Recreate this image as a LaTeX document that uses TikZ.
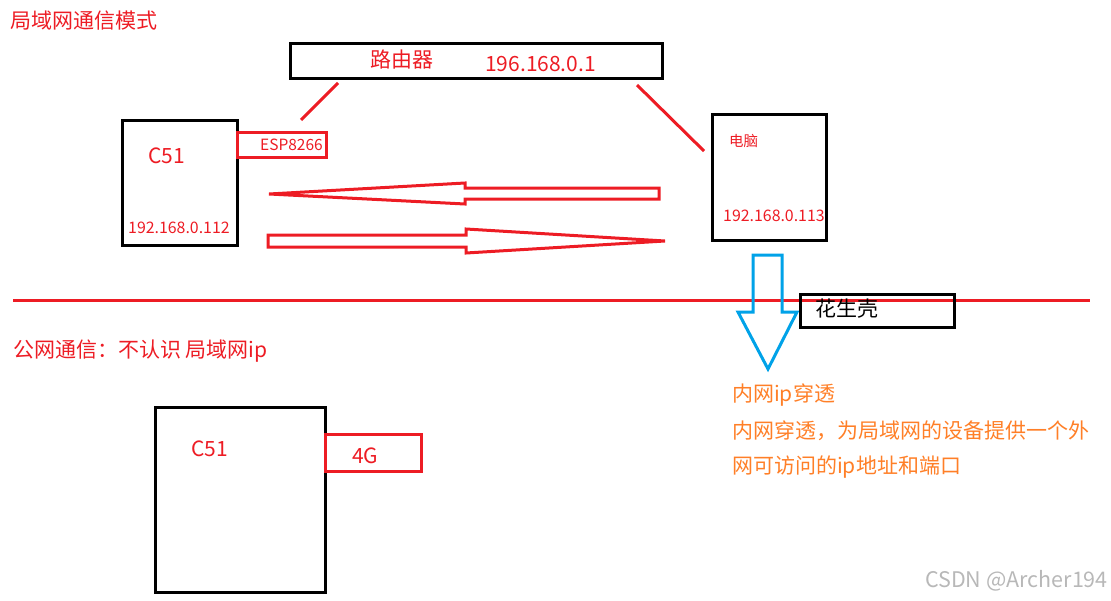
\documentclass[tikz,border=0pt]{standalone}
\usepackage{fontspec}
\setmainfont{Noto Sans CJK SC}
\definecolor{redpen}{RGB}{237,28,36}
\definecolor{bluepen}{RGB}{0,162,232}
\definecolor{orangepen}{RGB}{255,127,39}
\tikzset{
  blackbox/.style={draw=black, line width=3pt, inner sep=0pt},
  redbox/.style={draw=redpen, line width=3pt, inner sep=0pt},
  label/.style={anchor=west, inner sep=0pt, text=redpen},
  big/.style={font=\fontsize{21}{24}\selectfont},
  small/.style={font=\fontsize{15.9}{18}\selectfont},
  note/.style={anchor=west, inner sep=0pt, text=orangepen, font=\fontsize{21}{24}\selectfont},
  wire/.style={draw=redpen, line width=3pt},
}
\begin{document}
\begin{tikzpicture}[x=1pt,y=-1pt]
\useasboundingbox (0,0) rectangle (1111,600);

\node[label,big] (title) at (10,21) {局域网通信模式};

\node[blackbox, minimum width=372pt, minimum height=35pt] (router) at (476,60.5) {};
\node[label,big] (routername) at (370,60) {路由器};
\node[label,big] (routerip) at (485,64) {196.168.0.1};

\node[blackbox, minimum width=115pt, minimum height=125pt] (c51a) at (180,182.5) {};
\node[redbox, minimum width=89pt, minimum height=25pt] (esp) at (282,144.5) {};
\node[label,big] (c51atext) at (148,156) {C51};
\node[label,font=\fontsize{15.5}{18}\selectfont] (esptext) at (260,144.5) {ESP8266};
\node[label,small] (c51aip) at (128,228) {192.168.0.112};

\node[blackbox, minimum width=114pt, minimum height=126pt] (pc) at (769.5,177) {};
\node[label,font=\fontsize{14.5}{18}\selectfont] (pctext) at (729,141) {电脑};
\node[label,small] (pcip) at (723,216) {192.168.0.113};

\coordinate (routerleft) at (338,83);
\coordinate (c51top) at (301,120);
\coordinate (routerright) at (637,85);
\coordinate (pcleft) at (704,151);
\path[wire] (routerleft) -- (c51top);
\path[wire] (routerright) -- (pcleft);

% arrows between the two boards
\draw[wire, line join=miter] (269,194) -- (465,183) -- (465,188) -- (659,188) -- (659,199) -- (465,199) -- (465,204) -- cycle;
\draw[wire, line join=miter] (665,241) -- (466,229) -- (466,235) -- (268,235) -- (268,247) -- (466,247) -- (466,253) -- cycle;

\coordinate (lineleft) at (13,300);
\coordinate (lineright) at (1090,300);
\path[wire] (lineleft) -- (lineright);

\draw[draw=bluepen, line width=3pt] (753,255) -- (782,255) -- (782,312) -- (797,312) -- (768,369) -- (738,312) -- (753,312) -- cycle;

\node[blackbox, minimum width=154pt, minimum height=33pt] (peanut) at (877.5,310.5) {};
\node[label,big,text=black] (peanuttext) at (815,309) {花生壳};

\node[label,big] (publictitle) at (13,351) {公网通信：不认识 局域网ip};

\node[blackbox, minimum width=170pt, minimum height=185pt] (c51b) at (240,499.5) {};
\node[redbox, minimum width=96pt, minimum height=37pt] (net) at (373,452.5) {};
\node[label,big] (c51btext) at (191,449) {C51};
\node[label,big] (nettext) at (352,456) {4G};

\node[note] (note1) at (732,395) {内网ip穿透};
\node[note] (note2) at (732,431) {内网穿透，为局域网的设备提供一个外};
\node[note] (note3) at (732,467) {网可访问的ip地址和端口};

\node[anchor=east, inner sep=0pt, text=black!28, font=\fontsize{21.5}{24}\selectfont] (mark) at (1108,581) {CSDN @Archer194};
\end{tikzpicture}
\end{document}
